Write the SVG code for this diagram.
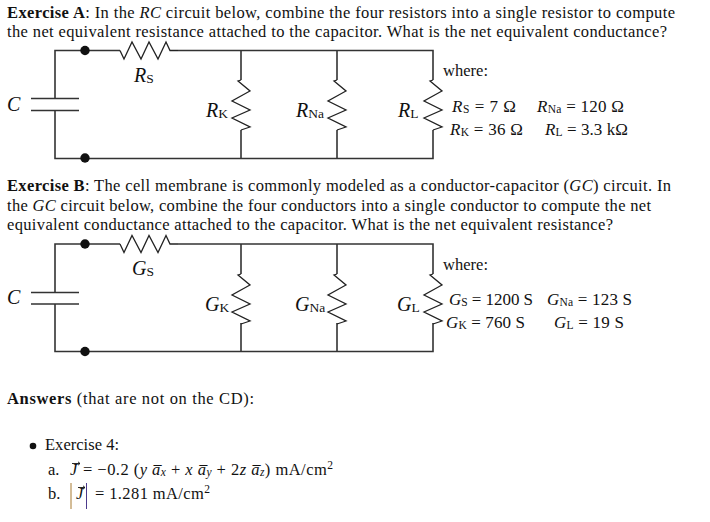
<svg xmlns="http://www.w3.org/2000/svg" width="710" height="522" viewBox="0 0 710 522">
<style>
text{font-family:"Liberation Serif","Times New Roman",serif;font-size:16.5px;fill:#111}
.i{font-style:italic}
.b{font-weight:bold}
.m{font-size:20px}
.v{font-size:17px}
.s{font-size:13.5px}
.t{font-size:11.5px}
.w{fill:none;stroke:#333;stroke-width:1.6}
.z{fill:none;stroke:#222;stroke-width:1.3}
.k{fill:none;stroke:#111;stroke-width:0.9}
.d{fill:#111}
</style>
<defs>
<path id="zv" class="z" d="M0 0L-3 1L9 11L-9 21L9 30L-9 38L9 47L0 50"/>
<path id="zh" class="z" d="M0 0L4 8.500L12 -8.500L21 8.500L29 -8.500L38 8.500L46 -8.500L50 0L58 0"/>
</defs>
<rect width="710" height="522" fill="#fff"/>
<g id="text-a">
<text x="7" y="18" textLength="668"><tspan class="b">Exercise A</tspan>: In the <tspan class="i">RC</tspan> circuit below, combine the four resistors into a single resistor to compute</text>
<text x="7" y="37" textLength="660">the net equivalent resistance attached to the capacitor. What is the net equivalent conductance?</text>
<text x="443" y="76" textLength="45">where:</text>
</g>
<g id="circuit-a-connectors">
<path class="w" d="M55 98.500V50.500H120M178 50.500H433V80M433 130V158.500H55V110.500M241 50.500V80M241 130V158.500M337 50.500V80M337 130V158.500M31 98.500H79M31 110.500H79"/>
<use href="#zh" x="120" y="50.500"/>
<use href="#zv" x="241" y="80"/>
<use href="#zv" x="337" y="80"/>
<use href="#zv" x="433" y="80"/>
</g>
<g id="circuit-a-nodes">
<circle class="d" cx="85" cy="50.500" r="4.700"/>
<circle class="d" cx="85" cy="158" r="4.700"/>
</g>
<g id="labels-a">
<text class="m" x="7" y="111"><tspan class="i">C</tspan></text>
<text class="m" x="134" y="82"><tspan class="i">R</tspan><tspan class="s" dy="1">S</tspan></text>
<text class="m" x="206" y="117"><tspan class="i">R</tspan><tspan class="s" dy="1">K</tspan></text>
<text class="m" x="296" y="117"><tspan class="i">R</tspan><tspan class="s" dy="1">Na</tspan></text>
<text class="m" x="398" y="117"><tspan class="i">R</tspan><tspan class="s" dy="1">L</tspan></text>
<text class="v" x="452" y="112" textLength="64"><tspan class="i">R</tspan><tspan class="t" dy="1">S</tspan><tspan dy="-1"> = 7 Ω</tspan></text>
<text class="v" x="537" y="112" textLength="87"><tspan class="i">R</tspan><tspan class="t" dy="1">Na</tspan><tspan dy="-1"> = 120 Ω</tspan></text>
<text class="v" x="450" y="135" textLength="73"><tspan class="i">R</tspan><tspan class="t" dy="1">K</tspan><tspan dy="-1"> = 36 Ω</tspan></text>
<text class="v" x="545" y="135" textLength="83"><tspan class="i">R</tspan><tspan class="t" dy="1">L</tspan><tspan dy="-1"> = 3.3 kΩ</tspan></text>
</g>
<g id="text-b">
<text x="7" y="191" textLength="664"><tspan class="b">Exercise B</tspan>: The cell membrane is commonly modeled as a conductor-capacitor (<tspan class="i">GC</tspan>) circuit. In</text>
<text x="7" y="211" textLength="644">the <tspan class="i">GC</tspan> circuit below, combine the four conductors into a single conductor to compute the net</text>
<text x="7" y="230" textLength="606">equivalent conductance attached to the capacitor. What is the net equivalent resistance?</text>
<text x="443" y="270" textLength="45">where:</text>
</g>
<g id="circuit-b-connectors">
<path class="w" d="M55 292.500V244H120M178 244H433V274M433 323V351.500H55V304M241 244V274M241 323V351.500M337 244V274M337 323V351.500M31 292.500H79M31 304H79"/>
<use href="#zh" x="120" y="244"/>
<use href="#zv" x="241" y="274"/>
<use href="#zv" x="337" y="274"/>
<use href="#zv" x="433" y="274"/>
</g>
<g id="circuit-b-nodes">
<circle class="d" cx="85" cy="244" r="4.700"/>
<circle class="d" cx="85" cy="351.500" r="4.700"/>
</g>
<g id="labels-b">
<text class="m" x="7" y="304"><tspan class="i">C</tspan></text>
<text class="m" x="132" y="275"><tspan class="i">G</tspan><tspan class="s" dy="1">S</tspan></text>
<text class="m" x="205" y="311"><tspan class="i">G</tspan><tspan class="s" dy="1">K</tspan></text>
<text class="m" x="295" y="311"><tspan class="i">G</tspan><tspan class="s" dy="1">Na</tspan></text>
<text class="m" x="397" y="311"><tspan class="i">G</tspan><tspan class="s" dy="1">L</tspan></text>
<text class="v" x="449" y="305" textLength="84"><tspan class="i">G</tspan><tspan class="t" dy="1">S</tspan><tspan dy="-1"> = 1200 S</tspan></text>
<text class="v" x="547" y="305" textLength="85"><tspan class="i">G</tspan><tspan class="t" dy="1">Na</tspan><tspan dy="-1"> = 123 S</tspan></text>
<text class="v" x="446" y="328" textLength="79"><tspan class="i">G</tspan><tspan class="t" dy="1">K</tspan><tspan dy="-1"> = 760 S</tspan></text>
<text class="v" x="554" y="328" textLength="70"><tspan class="i">G</tspan><tspan class="t" dy="1">L</tspan><tspan dy="-1"> = 19 S</tspan></text>
</g>
<g id="answers">
<text x="7" y="404" textLength="247"><tspan class="b">Answers</tspan> (that are not on the CD):</text>
<circle class="d" cx="33" cy="446" r="3.300"/>
<text x="45" y="450" textLength="74">Exercise 4:</text>
<text x="48" y="475">a.</text>
<text class="i" x="70" y="475">J</text>
<path class="k" d="M72 463.500H80M78 461.800L80 463.500L78 465.200"/>
<text x="83" y="475" textLength="250">= −0.2 (<tspan class="i">y a̅</tspan><tspan class="t i" dy="1">x</tspan><tspan dy="-1"> + </tspan><tspan class="i">x a̅</tspan><tspan class="t i" dy="1">y</tspan><tspan dy="-1"> + 2</tspan><tspan class="i">z a̅</tspan><tspan class="t i" dy="1">z</tspan><tspan dy="-1">) mA/cm</tspan><tspan class="t" dy="-6">2</tspan></text>
<text x="48" y="499">b.</text>
<path d="M71 483V509" stroke="#a87a30" stroke-width="1" fill="none"/>
<path d="M86.500 483V509" stroke="#4b3a8c" stroke-width="1" fill="none"/>
<text class="i" x="76" y="499">J</text>
<path class="k" d="M78 487.500H85M83 485.800L85 487.500L83 489.200"/>
<text x="95" y="499" textLength="115">= 1.281 mA/cm<tspan class="t" dy="-6">2</tspan></text>
</g>
</svg>
